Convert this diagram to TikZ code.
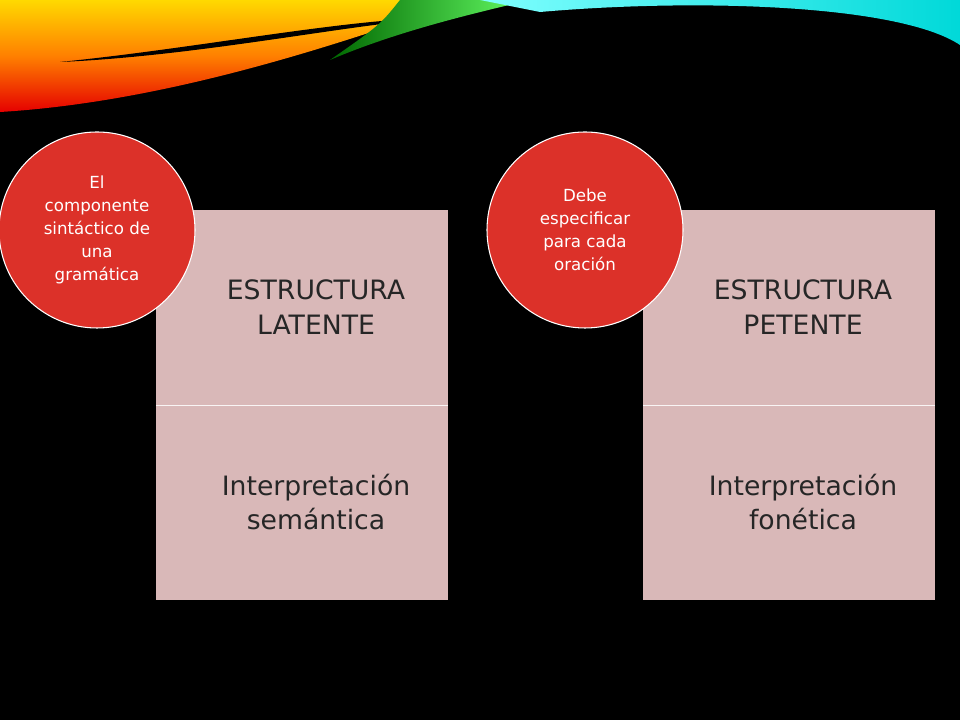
\documentclass[tikz,border=0pt]{standalone}
\usepackage{fontspec}
\setmainfont{DejaVu Sans}
\begin{document}
\begin{tikzpicture}[x=0.75pt,y=0.75pt,
  box/.style={fill=boxpink,draw=none},
  bigtxt/.style={align=center,font=\fontsize{20}{26}\selectfont,text=black!85},
  circ/.style={circle,fill=circred,draw=white,line width=0.8pt,minimum size=147pt,inner sep=0pt,align=center,text=white,font=\fontsize{12.5}{17.3}\selectfont}]
\definecolor{boxpink}{HTML}{D9B8B8}
\definecolor{circred}{HTML}{DC3129}
\useasboundingbox (0,0) rectangle (960,720);
\fill[black] (0,0) rectangle (960,720);
% swoosh
\shade[top color=yellow!70!orange, bottom color=red!90!black, middle color=orange]
  (0,720) -- (470,720) .. controls (400,700) and (200,620) .. (0,608) -- cycle;
\fill[black] (60,658) .. controls (200,672) and (350,702) .. (440,702) .. controls (350,696) and (200,664) .. (60,658) -- cycle;
\shade[left color=green!40!black, right color=green!60!white]
  (400,720) -- (530,720) .. controls (480,708) and (400,690) .. (330,660) .. controls (380,695) .. cycle;
\shade[left color=cyan!50!white, right color=cyan!70!teal]
  (480,720) -- (960,720) -- (960,675) .. controls (900,715) and (700,722) .. (540,708) -- cycle;
% boxes
\fill[box] (156,120) rectangle (448,510);
\fill[box] (643,120) rectangle (935,510);
\draw[white!85!boxpink] (156,315) -- (448,315);
\draw[white!85!boxpink] (643,315) -- (935,315);
\node[bigtxt] (t1) at (316,413) {ESTRUCTURA\\LATENTE};
\node[bigtxt] (b1) at (316,218) {Interpretación\\semántica};
\node[bigtxt] (t2) at (803,413) {ESTRUCTURA\\PETENTE};
\node[bigtxt] (b2) at (803,218) {Interpretación\\fonética};
\node[circ] (c1) at (97,490) {El\\componente\\sintáctico de\\una\\gramática};
\node[circ] (c2) at (585,490) {Debe\\especificar\\para cada\\oración};
\end{tikzpicture}
\end{document}
